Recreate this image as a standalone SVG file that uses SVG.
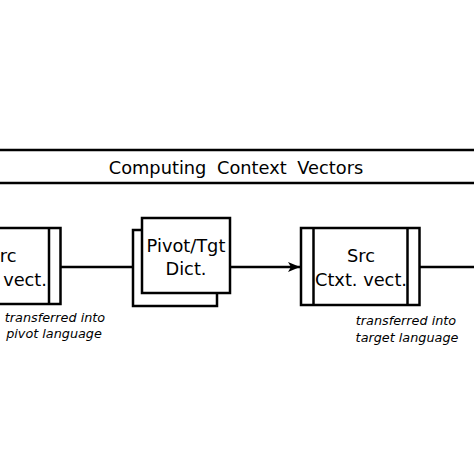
<svg xmlns="http://www.w3.org/2000/svg" width="474" height="474" viewBox="0 0 474 474">
<style>
.box{fill:#fff;stroke:#000;stroke-width:2.5}
.ln{stroke:#000;stroke-width:2.5;fill:none}
.t{font-family:"DejaVu Sans",Verdana,sans-serif;font-size:17.8px;fill:#000}
.i{font-family:"DejaVu Sans",Verdana,sans-serif;font-size:12.8px;font-style:italic;fill:#000}
</style>
<defs>
<marker id="ah" viewBox="0 0 12 10" refX="12" refY="5" markerWidth="12" markerHeight="10" markerUnits="userSpaceOnUse" orient="auto">
<path d="M0,0 L12,5 L0,10 L3,5 Z" fill="#000"/>
</marker>
</defs>
<rect width="474" height="474" fill="#fff"/>
<g id="band">
<line class="ln" x1="0" y1="150" x2="474" y2="150"/>
<line class="ln" x1="0" y1="183" x2="474" y2="183"/>
<text class="t" x="236" y="174" text-anchor="middle" style="word-spacing:5px">Computing Context Vectors</text>
</g>
<g id="connectors">
<line class="ln" x1="61" y1="267" x2="133" y2="267"/>
<line class="ln" x1="230" y1="267" x2="300" y2="267" marker-end="url(#ah)"/>
<line class="ln" x1="419" y1="267" x2="474" y2="267"/>
</g>
<g id="left-box">
<rect class="box" x="-58" y="228" width="118.5" height="76"/>
<line class="ln" x1="49" y1="228" x2="49" y2="304"/>
<text class="t" x="16.5" y="262" text-anchor="end">rc</text>
<text class="t" x="47" y="286" text-anchor="end">vect.</text>
</g>
<g id="pivot-dict">
<rect class="box" x="133" y="230" width="84" height="76"/>
<rect class="box" x="142" y="218" width="88" height="75"/>
<text class="t" x="186" y="252" text-anchor="middle">Pivot/Tgt</text>
<text class="t" x="186" y="275" text-anchor="middle">Dict.</text>
</g>
<g id="src-ctxt">
<rect class="box" x="301" y="228" width="118.5" height="77"/>
<line class="ln" x1="313.5" y1="228" x2="313.5" y2="305"/>
<line class="ln" x1="407.5" y1="228" x2="407.5" y2="305"/>
<text class="t" x="361" y="262" text-anchor="middle">Src</text>
<text class="t" x="361" y="286" text-anchor="middle">Ctxt. vect.</text>
</g>
<g id="labels">
<text class="i" x="55" y="322" text-anchor="middle">transferred into</text>
<text class="i" x="54" y="338" text-anchor="middle">pivot language</text>
<text class="i" x="406" y="325" text-anchor="middle">transferred into</text>
<text class="i" x="407" y="342" text-anchor="middle">target language</text>
</g>
</svg>
